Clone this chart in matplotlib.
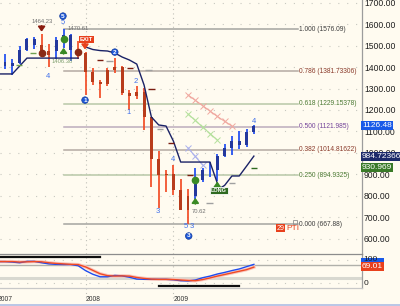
import numpy as np
import matplotlib.pyplot as plt
from matplotlib.lines import Line2D

plt.rcParams['font.family'] = ['Liberation Sans', 'DejaVu Sans']

# S&P 500 monthly bars, Jan 2007 .. Dec 2009 (last bar closes 1126.48)
opens = [1418, 1424, 1406, 1421, 1482, 1531, 1503, 1455, 1474, 1527, 1549, 1481,
         1468, 1379, 1331, 1323, 1386, 1400, 1280, 1267, 1283, 1166, 969, 896,
         903, 826, 735, 798, 873, 919, 919, 987, 1021, 1057, 1036, 1096]
highs = [1441, 1461, 1438, 1498, 1535, 1540, 1556, 1508, 1539, 1576, 1553, 1523,
         1471, 1396, 1340, 1397, 1441, 1404, 1292, 1314, 1303, 1168, 1007, 919,
         944, 876, 832, 930, 930, 956, 996, 1039, 1080, 1101, 1113, 1130]
lows = [1403, 1389, 1364, 1416, 1476, 1484, 1454, 1400, 1439, 1489, 1430, 1436,
        1270, 1317, 1257, 1312, 1374, 1272, 1200, 1249, 1107, 840, 741, 816,
        805, 735, 667, 783, 866, 888, 869, 979, 991, 1020, 1029, 1086]
closes = [1438, 1406, 1421, 1482, 1531, 1503, 1455, 1474, 1527, 1549, 1481, 1468,
          1379, 1331, 1323, 1386, 1400, 1280, 1267, 1283, 1166, 969, 896, 903,
          826, 735, 798, 873, 919, 919, 987, 1021, 1057, 1036, 1096, 1126.48]
# bar colour follows the system state, u = long (blue), d = short/out (red)
state = 'u' * 6 + 'dd' + 'uuu' + 'd' * 16 + 'u' * 9

year_labels = ['2007', '2008', '2009']
year_bars = [0, 12, 24]

# trailing stop (three legs)
trail_a = [1368, 1368, 1368, 1405, 1442, 1442, 1442, 1442, 1442, 1442, 1442, 1442]   # bars 0..11
trail_b = [1494, 1482, 1477, 1475, 1466, 1447, 1433, 1414, 1316, 1167, 1130, 1125,
           1055, 957, 957, 957, 957, 957, 859]                                     # bars 12..30
trail_c = [827, 848, 892, 892, 938, 984.723663]                                    # bars 30..35

# fibonacci retracement of the 2007 top / 2009 low
fib_hi, fib_lo = 1576.09, 667.88
fib_ratios = [1.0, 0.786, 0.618, 0.5, 0.382, 0.25, 0.0]
fib_line_c = ['#a4a4a0', '#b4aaa2', '#b8c8a8', '#bcacbc', '#b4aaa2', '#b8c8a8', '#a4a4a0']
fib_text_c = ['#3c3c3c', '#8a3a2a', '#4c7a34', '#74449a', '#8a3a2a', '#4c7a34', '#3c3c3c']

# projected lines with x markers (start at bar 26)
proj_red = [1270, 1245, 1220, 1195, 1170, 1147, 1125]
proj_green = [1181, 1151, 1120, 1090, 1060]
proj_blue = [1023, 983, 943]

# stochastic-like oscillator
osc_k = [93, 93, 91, 88, 94, 94, 88, 83, 81, 80, 80, 75, 54, 38, 27, 27, 33, 31,
         25, 17, 16, 16, 16, 16, 14, 10, 9, 13, 23, 30, 39, 46, 54, 61, 71, 81]
osc_d = [93, 93, 93, 91, 92, 93, 92, 88, 85, 83, 81, 80, 70, 55, 40, 32, 30, 31,
         30, 24, 20, 17, 16, 16, 15, 13, 11, 10, 15, 22, 30, 37, 44, 51, 58, 69.01]

# small stop / target dashes
dash_bar = [2.9, 4.8, 14.0, 15.3, 18.1, 20.6, 21.0, 22.2, 23.7, 26.3, 28.9, 32.0, 35.0]
dash_val = [1410, 1466, 1433, 1428, 1396, 1386, 1298, 1111, 1046, 897, 766, 859, 931]
dash_col = ['#70a050', '#70a050', '#7a1c10', '#a0a0a0', '#7a1c10', '#a0a0a0', '#7a1c10',
            '#a0a0a0', '#7a1c10', '#7a1c10', '#a0a0a0', '#a0a0a0', '#2f6a20']

bg = '#fffbf0'
fig = plt.figure(figsize=(4, 3.06), dpi=100, facecolor=bg)
ax = fig.add_axes([0, 1 - 254 / 306, 362 / 400, 254 / 306], facecolor=bg)
ax2 = fig.add_axes([0, 1 - 288 / 306, 362 / 400, 34 / 306], facecolor=bg)
xmin, xmax = 0.317, 49.77

x = np.arange(len(opens))
o, h, l, c = map(np.array, (opens, highs, lows, closes))
wick = ['#1e4cf0' if s == 'u' else '#f24c26' for s in state]
body = ['#24389c' if s == 'u' else '#b83c1c' for s in state]

# grid
for v in range(600, 1701, 100):
    ax.axhline(v, color='#c8c8c0', lw=0.8, ls=(0, (1, 7)), zorder=0)
for yb in year_bars[1:]:
    ax.axvline(yb, color='#c0c0b8', lw=0.8, ls=(0, (1, 3)), zorder=0)
    ax2.axvline(yb, ymin=-0.3, ymax=1, color='#c0c0b8', lw=0.8, ls=(0, (1, 3)),
                zorder=0, clip_on=False)

# fib levels
for r, lc, tc in zip(fib_ratios, fib_line_c, fib_text_c):
    val = fib_lo + r * (fib_hi - fib_lo)
    ax.plot([9, 41], [val, val], color=lc, lw=1.1, zorder=1)
    txt = ('%.5f' % val).rstrip('0').rstrip('.')
    ax.text(41.1, val, '%.3f (%s)' % (r, txt), color=tc, fontsize=4.8,
            ha='left', va='center', zorder=2)

# projections
for vals, col in [(proj_red, '#f0a8a0'), (proj_green, '#b4e09c'), (proj_blue, '#aab0ec')]:
    ax.plot(np.arange(26, 26 + len(vals)), vals, color=col, lw=0.8, marker='x',
            ms=4.5, mew=0.7, zorder=2)

# candles
ax.vlines(x, l, h, colors=wick, lw=1.25, zorder=3)
ax.bar(x, np.abs(c - o), bottom=np.minimum(o, c), width=0.4, color=body, zorder=4)

# trailing stop
ax.plot(np.arange(0, 12), trail_a, color='#1a2266', lw=1.0, zorder=5)
ax.plot(np.arange(12, 31), trail_b, color='#1a2266', lw=1.0, zorder=5)
ax.plot(np.arange(30, 36), trail_c, color='#1a2266', lw=1.0, zorder=5)

ax.hlines(dash_val, np.array(dash_bar) - 0.45, np.array(dash_bar) + 0.45,
          colors=dash_col, lw=1.0, zorder=5)

# wave counts
blue_txt = '#4070ea'
for b, v, s in [(8.92, 1606, '5'), (6.87, 1354, '4'), (17.9, 1186, '1'), (18.9, 1335, '2'),
                (21.9, 724, '3'), (23.95, 967, '4'), (25.7, 654, '5'), (26.5, 654, '3'),
                (35.0, 1146, '4')]:
    ax.text(b, v, s, color=blue_txt, fontsize=5.5, ha='center', va='center', zorder=6)
for b, v, s in [(8.92, 1638, '5'), (16.0, 1470, '2'), (11.93, 1246, '1'), (26.1, 612, '3')]:
    ax.text(b, v, s, color='white', fontsize=4.6, fontweight='bold', ha='center',
            va='center', zorder=7,
            bbox=dict(boxstyle='circle,pad=0.12', fc='#1e58d8', ec='#123a9a', lw=0.5))

# signals
def arrow(b, tail, tip, col):
    ax.annotate('', xy=(b, tip), xytext=(b, tail), zorder=7,
                arrowprops=dict(arrowstyle='-|>,head_width=0.4,head_length=0.55',
                                mutation_scale=5, color=col, lw=1.3,
                                shrinkA=0, shrinkB=0))

gray_txt = '#707070'
ax.text(6.05, 1615, '1464.23', color=gray_txt, fontsize=4.2, ha='center', va='center', zorder=6)
arrow(6, 1592, 1565, '#8a1c10')
ax.plot([6, 11], [1466, 1470], ls='none', marker='o', ms=4.5, color='#8a2a14', zorder=6)
ax.text(10.97, 1582, '1470.61', color=gray_txt, fontsize=4.2, ha='center', va='center', zorder=6)
ax.text(12.07, 1529, 'EXIT', color='white', fontsize=4.3, fontweight='bold', ha='center',
        va='center', zorder=8, bbox=dict(boxstyle='square,pad=0.15', fc='#e8401c', ec='none'))
arrow(11.93, 1510, 1482, '#e8401c')
ax.plot([9, 27], [1531, 873], ls='none', marker='o', ms=4.5, color='#3a8a24', zorder=6)
arrow(9, 1462, 1490, '#3a8a24')
ax.text(8.8, 1428, '1406.38', color='#80a070', fontsize=4.2, ha='center', va='center', zorder=6)
arrow(27, 762, 790, '#3a8a24')
ax.text(27.5, 724, '70.62', color=gray_txt, fontsize=4.2, ha='center', va='center', zorder=6)
arrow(30, 840, 866, '#3a8a24')
ax.text(30.2, 826, 'LONG', color='white', fontsize=4.0, fontweight='bold', ha='center',
        va='center', zorder=8,
        bbox=dict(boxstyle='square,pad=0.2', fc='#2f6a20', ec='white', lw=0.6))
ax.text(38.6, 649, '29', color='white', fontsize=5, ha='center', va='center', zorder=8,
        bbox=dict(boxstyle='square,pad=0.1', fc='#e8401c', ec='none'))
ax.text(39.4, 649, 'PTI', color='#e8401c', fontsize=6, ha='left', va='center', zorder=8)
ax.plot([40.6], [678], ls='none', marker='s', ms=2.5, mfc='none', mec='#909090', mew=0.6, zorder=6)

# axes styling (main)
ax.set_xlim(xmin, xmax)
ax.set_ylim(528, 1713)
ax.set_xticks([])
ax.yaxis.tick_right()
ax.set_yticks(range(600, 1701, 100))
ax.set_yticklabels(['%.2f' % v for v in range(600, 1701, 100)])
ax.tick_params(axis='y', length=0, pad=1.5, labelsize=6.2, labelcolor='#202020')
for s in ['top', 'left', 'bottom']:
    ax.spines[s].set_visible(False)
ax.spines['right'].set_color('#9c9c9c')
ax.spines['right'].set_linewidth(0.9)

ytr = ax.get_yaxis_transform()
for v, s, fc in [(1126.48, '1126.48', '#1a5ae8'), (984.723663, '984.723663', '#1c2a6a'),
                 (930.969, '930.969', '#3a7a28')]:
    ax.text(1.0, v, s, transform=ytr, color='white', fontsize=6.0, ha='left', va='center',
            zorder=9, clip_on=False,
            bbox=dict(boxstyle='square,pad=0.12', fc=fc, ec='none'))

# oscillator panel
ax2.set_xlim(xmin, xmax)
ax2.set_ylim(-21.7, 126)
ax2.axhline(100, color='#c8c8c0', lw=0.8, ls=(0, (1, 7)), zorder=0)
ax2.axhline(0, color='#c8c8c0', lw=0.8, ls=(0, (1, 7)), zorder=0)
ax2.axhline(80, color='#b0b0aa', lw=1.0, zorder=1)
ax2.axhline(20, color='#d8d8d0', lw=2.2, zorder=1)
ax2.plot(x, osc_d, color='#f8c4bc', lw=2.4, zorder=2)
ax2.plot(x, osc_k, color='#1e4cf0', lw=1.0, zorder=3)
ax2.plot(x, osc_d, color='#f04a24', lw=1.0, zorder=4)
ax2.plot([xmin, 14], [113, 113], color='#101010', lw=1.6, zorder=4)
ax2.plot([22, 33], [-13, -13], color='#101010', lw=1.6, zorder=4)
ax2.set_xticks([])
ax2.set_yticks([])
ax2.spines['left'].set_visible(False)
ax2.spines['top'].set_color('#8c8c8c')
ax2.spines['right'].set_color('#9c9c9c')
ax2.spines['bottom'].set_color('#c8c8c8')
for s in ax2.spines.values():
    s.set_linewidth(0.9)

ytr2 = ax2.get_yaxis_transform()
ax2.text(1.0, 91, '81.62', transform=ytr2, color='#1a5ae8', fontsize=6.0, ha='left', va='center',
         zorder=8, clip_on=False, bbox=dict(boxstyle='square,pad=0.12', fc='#1a5ae8', ec='none'))
ax2.text(1.0, 71, '69.01', transform=ytr2, color='white', fontsize=6.0, ha='left', va='center',
         zorder=9, clip_on=False, bbox=dict(boxstyle='square,pad=0.12', fc='#e8401c', ec='none'))
ax2.text(1.004, 102, '100', transform=ytr2, color='#202020', fontsize=6.0, ha='left',
         va='center', zorder=10, clip_on=False)
ax2.text(1.004, -2, '0', transform=ytr2, color='#202020', fontsize=6.0, ha='left',
         va='center', zorder=10, clip_on=False)

xtr = ax2.get_xaxis_transform()
for b, s in zip(year_bars, year_labels):
    ax2.text(b, -0.35, s, transform=xtr, color='#303030', fontsize=4.9, ha='left',
             va='center', clip_on=False)

fig.add_artist(Line2D([0, 1], [0.004, 0.004], color='#b4c2e6', lw=1.3))

fig.savefig('out.png', dpi=100, facecolor=bg)
